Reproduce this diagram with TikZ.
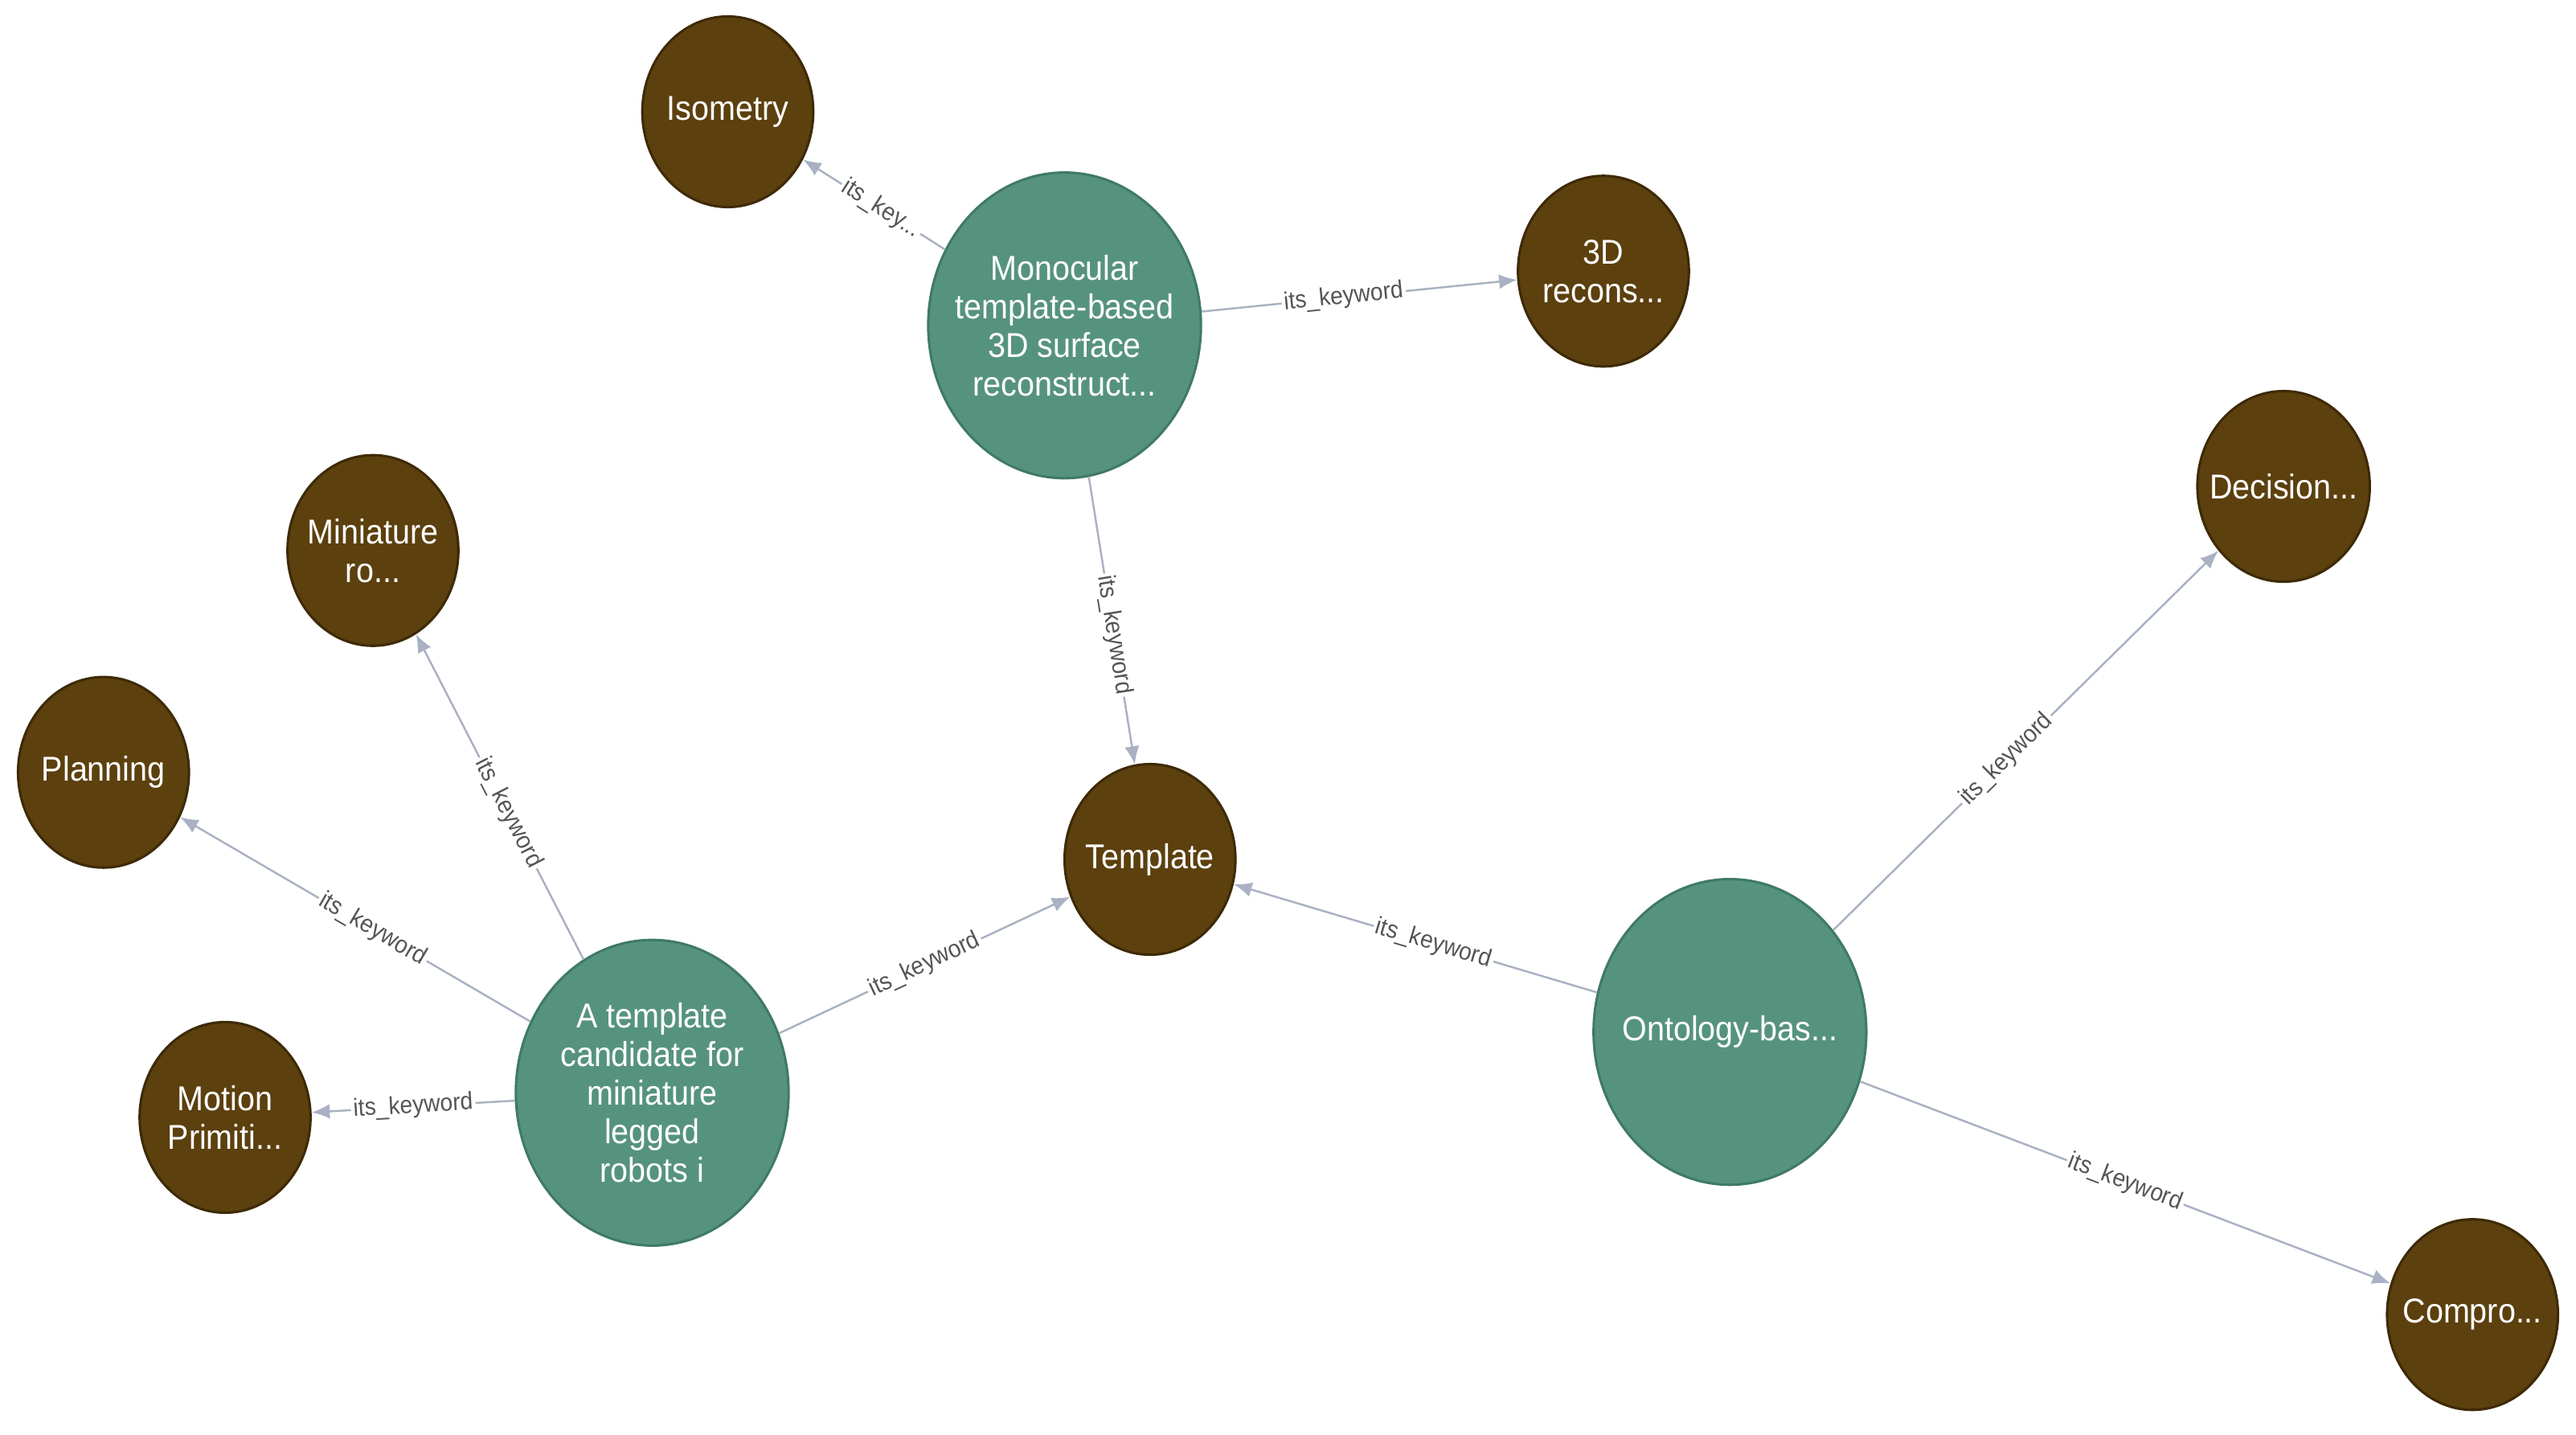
\documentclass[tikz,border=0pt]{standalone}
\usepackage{fontspec}
\setmainfont{Liberation Sans}
\newfontfamily\narrowsans[FakeStretch=0.92]{Liberation Sans}
\usetikzlibrary{shapes.geometric,arrows.meta}
\definecolor{kw}{HTML}{5C400E}
\definecolor{kwb}{HTML}{3E2A06}
\definecolor{pp}{HTML}{56937F}
\definecolor{ppb}{HTML}{3F7A66}
\definecolor{ed}{HTML}{A9B1C2}
\definecolor{lb}{HTML}{555555}
\tikzset{
 kwnode/.style={ellipse,fill=kw,draw=kwb,line width=1.5pt,minimum width=104pt,minimum height=116pt,inner sep=-8pt,text=white,align=center,font=\narrowsans\fontsize{21}{23.5}\selectfont},
 ppnode/.style={ellipse,fill=pp,draw=ppb,line width=1.5pt,minimum width=166pt,minimum height=186pt,inner sep=-14pt,text=white,align=center,font=\narrowsans\fontsize{21}{23.5}\selectfont},
 rel/.style={draw=ed,line width=1.2pt,-{Latex[length=11pt,width=9pt]}},
 lab/.style={sloped,fill=white,inner sep=1.5pt,text=lb,font=\narrowsans\fontsize{15}{17}\selectfont}
}
\begin{document}
\begin{tikzpicture}[x=1pt,y=-1pt]
\useasboundingbox[fill=white] (0,0) rectangle (1568,873);
\node[kwnode] (iso) at (443,68) {Isometry};
\node[ppnode] (mono) at (648,198) {Monocular\\template-based\\3D surface\\reconstruct...};
\node[kwnode] (rec) at (976,165) {3D\\recons...};
\node[kwnode] (dec) at (1390,296) {Decision...};
\node[kwnode] (min) at (227,335) {Miniature\\ro...};
\node[kwnode] (plan) at (63,470) {Planning};
\node[kwnode] (tmp) at (700,523) {Template};
\node[ppnode] (onto) at (1053,628) {Ontology-bas...};
\node[ppnode] (cand) at (397,665) {A template\\candidate for\\miniature\\legged\\robots i};
\node[kwnode] (mot) at (137,680) {Motion\\Primiti...};
\node[kwnode] (comp) at (1505,800) {Compro...};
\draw[rel] (mono) -- node[lab,pos=0.45] {its\_key...} (iso);
\draw[rel] (mono) -- node[lab,pos=0.45] {its\_keyword} (rec);
\draw[rel] (mono) -- node[lab,pos=0.55] {its\_keyword} (tmp);
\draw[rel] (cand) -- node[lab,pos=0.45] {its\_keyword} (min);
\draw[rel] (cand) -- node[lab,pos=0.45] {its\_keyword} (plan);
\draw[rel] (cand) -- node[lab,pos=0.5] {its\_keyword} (mot);
\draw[rel] (cand) -- node[lab,pos=0.5] {its\_keyword} (tmp);
\draw[rel] (onto) -- node[lab,pos=0.45] {its\_keyword} (tmp);
\draw[rel] (onto) -- node[lab,pos=0.45] {its\_keyword} (dec);
\draw[rel] (onto) -- node[lab,pos=0.5] {its\_keyword} (comp);
\end{tikzpicture}
\end{document}
